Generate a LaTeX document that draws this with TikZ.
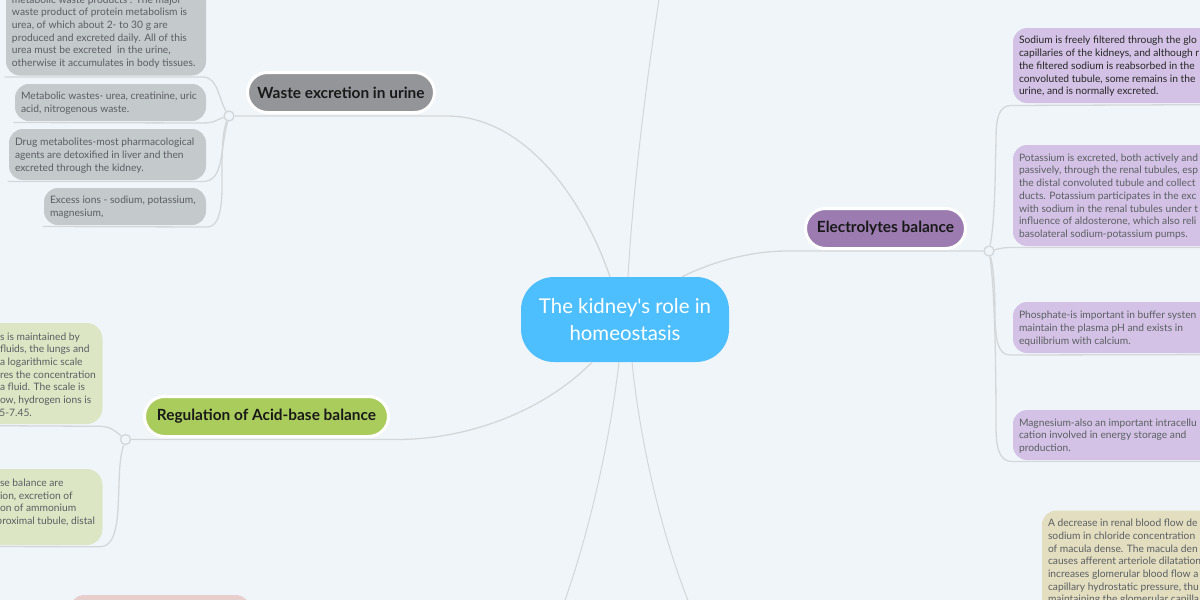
\documentclass[tikz,border=0pt]{standalone}
\usepackage{xcolor}
\usepackage{fontspec}
\setmainfont{Lato}[Ligatures=TeXOff]
\usepackage{tikz}
\hyphenpenalty=10000
\definecolor{bgcol}{HTML}{F0F5F9}
\definecolor{linkcol}{HTML}{D3D7DA}
\definecolor{rootcol}{HTML}{4DBFFF}
\definecolor{wastecol}{HTML}{939598}
\definecolor{wastelight}{HTML}{C4C9CC}
\definecolor{acidcol}{HTML}{A9CC5C}
\definecolor{acidlight}{HTML}{DCE6C4}
\definecolor{electrocol}{HTML}{9B7BB0}
\definecolor{electrolight}{HTML}{D3C2E5}
\definecolor{renallight}{HTML}{E3DEC0}
\definecolor{pinklight}{HTML}{E7CFCD}
\definecolor{notetext}{HTML}{5B5F63}
\begin{document}
\begin{tikzpicture}[x=1pt,y=-1pt]
	\tikzstyle{root} = [fill=rootcol, text=white, rounded corners=33pt, align=center, font=\fontsize{20.4}{26.5}\selectfont, minimum width=208pt, minimum height=85pt, inner sep=0pt]
	\tikzstyle{branch} = [draw=white, line width=3pt, rounded corners=20pt, font=\fontsize{15.4}{18}\selectfont\bfseries, text=black!90, minimum height=40pt, inner xsep=4pt]
	\tikzstyle{note} = [anchor=north west, align=flush left, rounded corners=14pt, outer sep=1.5pt, inner xsep=6pt, inner ysep=0pt, text=notetext, font=\fontsize{10.25}{12.7}\selectfont, execute at end node={\endgraf\vspace{-2pt}}]
	\tikzstyle{hub} = [circle, draw=linkcol, fill=bgcol, line width=1.3pt, minimum size=10pt, inner sep=0pt]
	\tikzset{link/.style = {draw=linkcol, line width=1.3pt}}

	\fill[bgcol] (0,0) rectangle (1200,600);
	\useasboundingbox (0,0) rectangle (1200,600);

	\node[root](root) at (625,319.5) {The kidney's role in\\homeostasis};

	\node[branch, fill=wastecol, minimum width=187pt](waste) at (341,92.5) {Waste excretion in urine};
	\node[hub](wastehub) at (229,116) {};
	\node[note, fill=wastelight, minimum width=200pt, minimum height=89pt, text width=188pt](waste1) at (4.5,-15) {metabolic waste products : The major\\waste product of protein metabolism is\\urea, of which about 2- to 30 g are\\produced and excreted daily. All of this\\urea must be excreted \ in the urine,\\otherwise it accumulates in body tissues.};
	\node[note, fill=wastelight, minimum width=191pt, minimum height=37pt, text width=179pt](waste2) at (13.5,82.5) {Metabolic wastes- urea, creatinine, uric\\acid, nitrogenous waste.};
	\node[note, fill=wastelight, minimum width=197pt, minimum height=51pt, text width=185pt](waste3) at (7.5,127.5) {Drug metabolites-most pharmacological\\agents are detoxified in liver and then\\excreted through the kidney.};
	\node[note, fill=wastelight, minimum width=162pt, minimum height=37pt, text width=150pt](waste4) at (42.5,186.5) {Excess ions - sodium, potassium,\\magnesium,};
	\draw[link](waste1.south west) -- (203,77) .. controls (218,77) and (219,100) .. (wastehub);
	\draw[link](waste2.south west) -- (203,123) .. controls (215,123) and (218,119) .. (wastehub);
	\draw[link](waste3.south west) -- (203,181.5) .. controls (224,181.5) and (220,150) .. (wastehub);
	\draw[link](waste4.south west) -- (207,227) .. controls (224,227) and (222,190) .. (222,170) .. controls (222,145) and (223,130) .. (wastehub);
	\draw[link](wastehub) -- (447,116) .. controls (520,116) and (580,190) .. ([xshift=-15pt]root.north);

	\node[branch, fill=acidcol, minimum width=244pt](acid) at (266.5,416.5) {Regulation of Acid-base balance};
	\node[hub](acidhub) at (125.5,439.5) {};
	\node[note, fill=acidlight, rounded corners=16pt, minimum width=142.5pt, minimum height=101pt, text width=130.5pt](acid1) at (-41.5,321.5) {\leftskip=34pt s is maintained by\\fluids, the lungs and\\a logarithmic scale\\res the concentration\\a fluid. The scale is\\ow, hydrogen ions is\\een 7.35-7.45.};
	\node[note, fill=acidlight, rounded corners=16pt, minimum width=142.5pt, minimum height=76pt, text width=130.5pt](acid2) at (-41.5,467.5) {\leftskip=34pt se balance are\\ion, excretion of\\on of ammonium\\\hspace*{-3.5pt}proximal tubule, distal\\~};
	\draw[link](acid1.south west) -- (100,426.3) .. controls (110,426.3) and (114,430) .. (acidhub);
	\draw[link](acid2.south west) -- (100,546.7) .. controls (122,546.7) and (117,500) .. (120,465) .. controls (121,455) and (122,450) .. (acidhub);
	\draw[link](acidhub) -- (397,439.5) .. controls (470,439.5) and (545,410) .. ([xshift=-33pt]root.south);

	\node[branch, fill=electrocol, minimum width=160pt](electro) at (885.5,228.5) {Electrolytes balance};
	\node[hub](electrohub) at (989,251) {};
	\node[note, fill=electrolight, text=black!85, minimum width=230pt, minimum height=75pt, text width=218pt](electro1) at (1011.5,26.5) {Sodium is freely filtered through the glo\\capillaries of the kidneys, and although r\\the filtered sodium is reabsorbed in the\\convoluted tubule, some remains in the\\urine, and is normally excreted.};
	\node[note, fill=electrolight, minimum width=230pt, minimum height=101pt, text width=218pt](electro2) at (1011.5,143.5) {Potassium is excreted, both actively and\\passively, through the renal tubules, esp\\the distal convoluted tubule and collect\\ducts. Potassium participates in the exc\\with sodium in the renal tubules under t\\influence of aldosterone, which also reli\\basolateral sodium-potassium pumps.};
	\node[note, fill=electrolight, minimum width=230pt, minimum height=51pt, text width=218pt](electro3) at (1011.5,300.5) {Phosphate-is important in buffer systen\\maintain the plasma pH and exists in\\equilibrium with calcium.};
	\node[note, fill=electrolight, minimum width=230pt, minimum height=50pt, text width=218pt](electro4) at (1011.5,408.5) {Magnesium-also an important intracellu\\cation involved in energy storage and\\production.};
	\draw[link](electro1.south east) -- (1011,105.5) .. controls (998,105.5) and (996,120) .. (996,140) .. controls (995,180) and (995,220) .. (electrohub);
	\draw[link](electro2.south east) -- (1010,247.5) .. controls (1003,247.5) and (998,249) .. (electrohub);
	\draw[link](electro3.south east) -- (1010,355) .. controls (998,355) and (996,340) .. (995,320) .. controls (995,290) and (994,270) .. (electrohub);
	\draw[link](electro4.south east) -- (1012,461.5) .. controls (998,461.5) and (996,445) .. (996,425) .. controls (996,370) and (995,290) .. (electrohub);
	\draw[link](electrohub) -- (787,251) .. controls (750,251) and (712,262) .. ([xshift=57pt]root.north);

	\node[note, fill=renallight, minimum width=200pt, minimum height=100.4pt, text width=188pt](renal1) at (1040.5,509.2) {A decrease in renal blood flow de\\sodium in chloride concentration\\of macula dense. The macula den\\causes afferent arteriole dilatation\\increases glomerular blood flow a\\capillary hydrostatic pressure, thu\\maintaining the glomerular capilla};
	\node[note, fill=pinklight, minimum width=180pt, minimum height=30pt, text width=168pt](pink1) at (68.5,593.5) {};

	\coordinate (topend) at (659.4,-3);
	\coordinate (leftend) at (564,603);
	\coordinate (rightend) at (689,603);
	\draw[link, line width=1pt]([xshift=3pt]root.north) .. controls (633,190) and (645,90) .. (topend);
	\draw[link, line width=1pt]([xshift=-6pt]root.south) .. controls (610,440) and (590,530) .. (leftend);
	\draw[link, line width=1pt]([xshift=7pt]root.south) .. controls (640,440) and (660,530) .. (rightend);
\end{tikzpicture}
\end{document}
